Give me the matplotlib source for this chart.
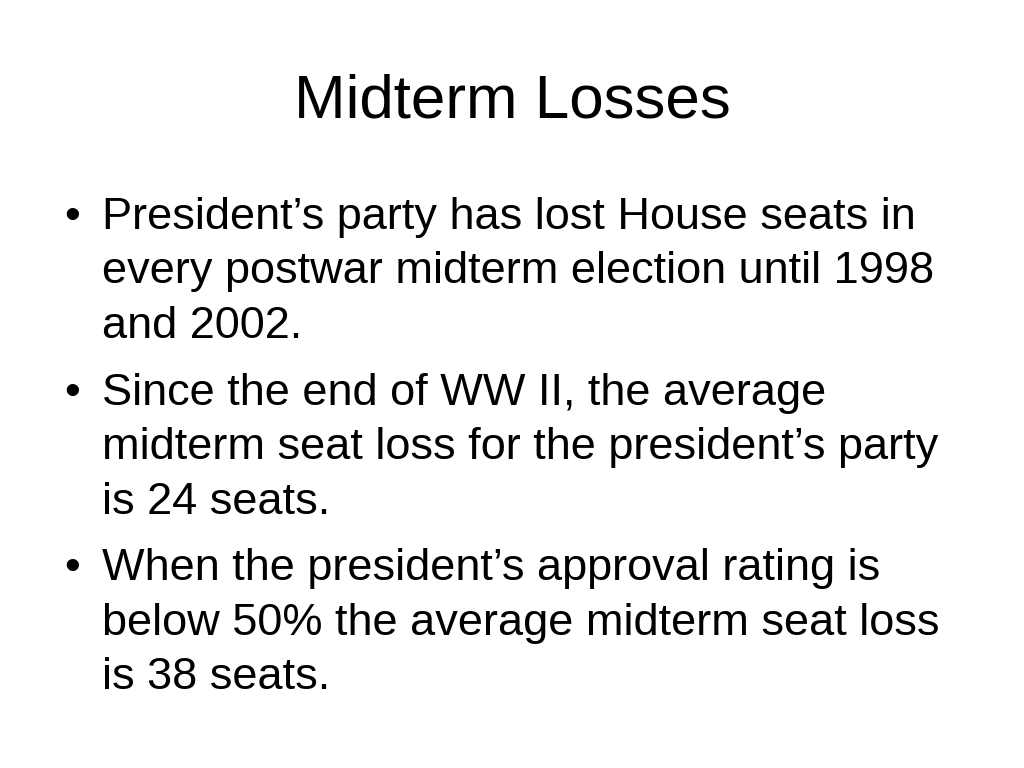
import matplotlib
matplotlib.use("Agg")
from matplotlib import pyplot as plt

plt.rcParams['font.family'] = ['Liberation Sans', 'DejaVu Sans']

title = "Midterm Losses"
bullets = [
    ["President\u2019s party has lost House seats in",
     "every postwar midterm election until 1998",
     "and 2002."],
    ["Since the end of WW II, the average",
     "midterm seat loss for the president\u2019s party",
     "is 24 seats."],
    ["When the president\u2019s approval rating is",
     "below 50% the average midterm seat loss",
     "is 38 seats."],
]

W, H = 1024, 768
fig = plt.figure(figsize=(W / 100, H / 100), dpi=100)
fig.patch.set_facecolor("white")

def fy(px):
    return 1 - px / H

fig.text(0.5, fy(117), title, ha="center", va="baseline", fontsize=44.6, color="black")

# baselines in pixels
line_gap = 54.5
para_gap = 66.5
y = 229
for para in bullets:
    fig.text(64 / W, fy(y), "\u2022", ha="left", va="baseline", fontsize=32.5, color="black")
    for i, line in enumerate(para):
        fig.text(102 / W, fy(y), line, ha="left", va="baseline", fontsize=32.5, color="black")
        if i < len(para) - 1:
            y += line_gap
    y += para_gap

fig.savefig("out.png", dpi=100)
